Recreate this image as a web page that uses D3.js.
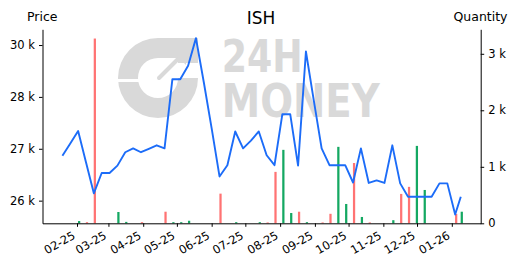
<!DOCTYPE html>
<html>
<head>
<meta charset="utf-8">
<script src="https://cdn.jsdelivr.net/npm/d3@7"></script>
<style>
  body { margin: 0; background: #fff; }
  text { font-family: "DejaVu Sans", sans-serif; }
</style>
</head>
<body>
<svg id="chart"></svg>
<script>
let w = 517;
let h = 268;
const margin = {top: 29.3, right: 36.3, bottom: 44.7, left: 42.5};

// weekly data, ISH
const dates = ['2025-01-19','2025-01-26','2025-02-02','2025-02-09','2025-02-16','2025-02-23',
  '2025-03-02','2025-03-09','2025-03-16','2025-03-23','2025-03-30','2025-04-06','2025-04-13',
  '2025-04-20','2025-04-27','2025-05-04','2025-05-11','2025-05-18','2025-05-25','2025-06-01',
  '2025-06-08','2025-06-15','2025-06-22','2025-06-29','2025-07-06','2025-07-13','2025-07-20',
  '2025-07-27','2025-08-03','2025-08-10','2025-08-17','2025-08-24','2025-08-31','2025-09-07',
  '2025-09-14','2025-09-21','2025-09-28','2025-10-05','2025-10-12','2025-10-19','2025-10-26',
  '2025-11-02','2025-11-09','2025-11-16','2025-11-23','2025-11-30','2025-12-07','2025-12-14',
  '2025-12-21','2025-12-28','2026-01-04','2026-01-09'];
const prices = [27040, 27320, 27610, 26890, 26170, 26640, 26640, 26810, 27120, 27210, 27120,
  27200, 27280, 27210, 28810, 28810, 29120, 29760, 28740, 27670, 26560, 26820, 27600, 27210,
  27390, 27600, 27050, 26820, 28000, 28000, 26810, 29450, 28320, 27210, 26820, 26820, 26820,
  26420, 27210, 26410, 26470, 26410, 27280, 26400, 26090, 26090, 26090, 26090, 26400, 26400,
  25680, 26090];
const quantities = [0, 0, 40, 20, 3270, 0, 0, 200, 25, 0, 20, 0, 0, 205, 20, 20, 45, 0, 0, 0,
  525, 0, 20, 0, 0, 20, 15, 910, 1300, 182, 205, 20, 0, 15, 168, 1353, 342, 1067, 112, 16, 0,
  0, 55, 520, 645, 1370, 590, 0, 0, 0, 165, 205];
const priceTicks = [26000, 27200, 28400, 29600];
const qtyTicks = [0, 1000, 2000, 3000];

const parse = d3.timeParse('%Y-%m-%d');
const data = dates.map((d, i) => ({
  date: parse(d),
  price: prices[i],
  qty: quantities[i],
  up: i === 0 || prices[i] >= prices[i-1]
}));

const svg = d3.select('#chart')
  .attr('width', w)
  .attr('height', h)

// scales, 5% padding like the original
const tExt = d3.extent(data, d => d.date);
const tPad = (tExt[1] - tExt[0]) * 0.05;
const x = d3.scaleTime()
  .domain([new Date(+tExt[0] - tPad), new Date(+tExt[1] + tPad)])
  .range([margin.left, w - margin.right])

const pExt = d3.extent(prices);
const pPad = (pExt[1] - pExt[0]) * 0.05;
const y = d3.scaleLinear()
  .domain([pExt[0] - pPad, pExt[1] + pPad])
  .range([h - margin.bottom, margin.top])

const yq = d3.scaleLinear()
  .domain([0, d3.max(quantities) * 1.05])
  .range([h - margin.bottom, margin.top])

// watermark
const wm = svg.append('g').attr('fill', '#d9d9d9')
const cx = 158, cy = 78;
wm.append('path')
  .attr('transform', `translate(${cx},${cy})`)
  .attr('d', d3.arc()({innerRadius: 20, outerRadius: 40, startAngle: Math.PI/2, endAngle: 2*Math.PI}))
wm.append('rect').attr('x', cx).attr('y', cy-40).attr('width', 40).attr('height', 20)
wm.append('rect').attr('x', cx+20).attr('y', cy-40).attr('width', 20).attr('height', 25)
wm.append('rect').attr('x', cx-41).attr('y', cy+1).attr('width', 22).attr('height', 3).attr('fill', '#fff')
wm.append('line')
  .attr('x1', cx+1).attr('y1', cy).attr('x2', cx+20).attr('y2', cy-19)
  .attr('stroke', '#d9d9d9').attr('stroke-width', 4).attr('stroke-linecap', 'round')
wm.append('path').attr('d', `M${cx+14},${cy-27} L${cx+28},${cy-27} L${cx+28},${cy-13} Z`)
wm.append('text')
  .attr('x', 221.7).attr('y', 71.7)
  .attr('font-size', 45).attr('font-weight', 'bold')
  .attr('textLength', 81).attr('lengthAdjust', 'spacingAndGlyphs')
  .text('24H')
wm.append('text')
  .attr('x', 221.7).attr('y', 117.3)
  .attr('font-size', 46).attr('font-weight', 'bold')
  .attr('textLength', 158).attr('lengthAdjust', 'spacingAndGlyphs')
  .text('MONEY')

// quantity bars
const barW = x(d3.timeDay.offset(data[0].date, 2)) - x(data[0].date);
svg.append('g')
  .selectAll('rect')
  .data(data.filter(d => d.qty > 0))
  .enter()
  .append('rect')
  .attr('x', d => x(d.date) - barW/2 + 1)
  .attr('y', d => yq(d.qty))
  .attr('width', barW)
  .attr('height', d => yq(0) - yq(d.qty))
  .attr('fill', d => d.up ? '#14a862' : '#ff7373')

// price line
svg.append('path')
  .datum(data)
  .attr('fill', 'none')
  .attr('stroke', '#1c6cf8')
  .attr('stroke-width', 1.9)
  .attr('stroke-linejoin', 'round')
  .attr('d', d3.line().x(d => x(d.date)).y(d => y(d.price)))

// axes
const kfmt = v => v === 0 ? '0' : Math.round(v / 1000) + ' k';

const yAxis = svg.append('g')
  .attr('transform', `translate(${margin.left},0)`)
  .call(d3.axisLeft(y).tickValues(priceTicks).tickFormat(kfmt).tickSize(3.5).tickSizeOuter(0).tickPadding(4))
const qAxis = svg.append('g')
  .attr('transform', `translate(${w - margin.right},0)`)
  .call(d3.axisRight(yq).tickValues(qtyTicks).tickFormat(kfmt).tickSize(3.5).tickSizeOuter(0).tickPadding(4))
const xAxis = svg.append('g')
  .attr('transform', `translate(0,${h - margin.bottom})`)
  .call(d3.axisBottom(x).ticks(d3.timeMonth.every(1)).tickFormat(d3.timeFormat('%m-%y')).tickSize(3.5).tickSizeOuter(0))

// rotated labels, right end under the tick
xAxis.selectAll('.tick text')
  .attr('text-anchor', 'end')
  .attr('x', 0).attr('y', 0).attr('dy', 0)
  .attr('transform', 'translate(-1.5,14.5) rotate(-30)')

svg.selectAll('.domain').attr('stroke', '#000')
svg.selectAll('.tick line').attr('stroke', '#000')
svg.selectAll('.tick text').attr('font-size', 11.5).attr('fill', '#000')
  .style('font-family', '"DejaVu Sans", sans-serif')

// titles
svg.append('text').attr('x', 261).attr('y', 23.5).attr('text-anchor', 'middle')
  .attr('font-size', 17).text('ISH')
svg.append('text').attr('x', 27).attr('y', 21).attr('font-size', 12.5).text('Price')
svg.append('text').attr('x', 507.5).attr('y', 21).attr('text-anchor', 'end')
  .attr('font-size', 12.5).text('Quantity')
</script>
</body>
</html>
